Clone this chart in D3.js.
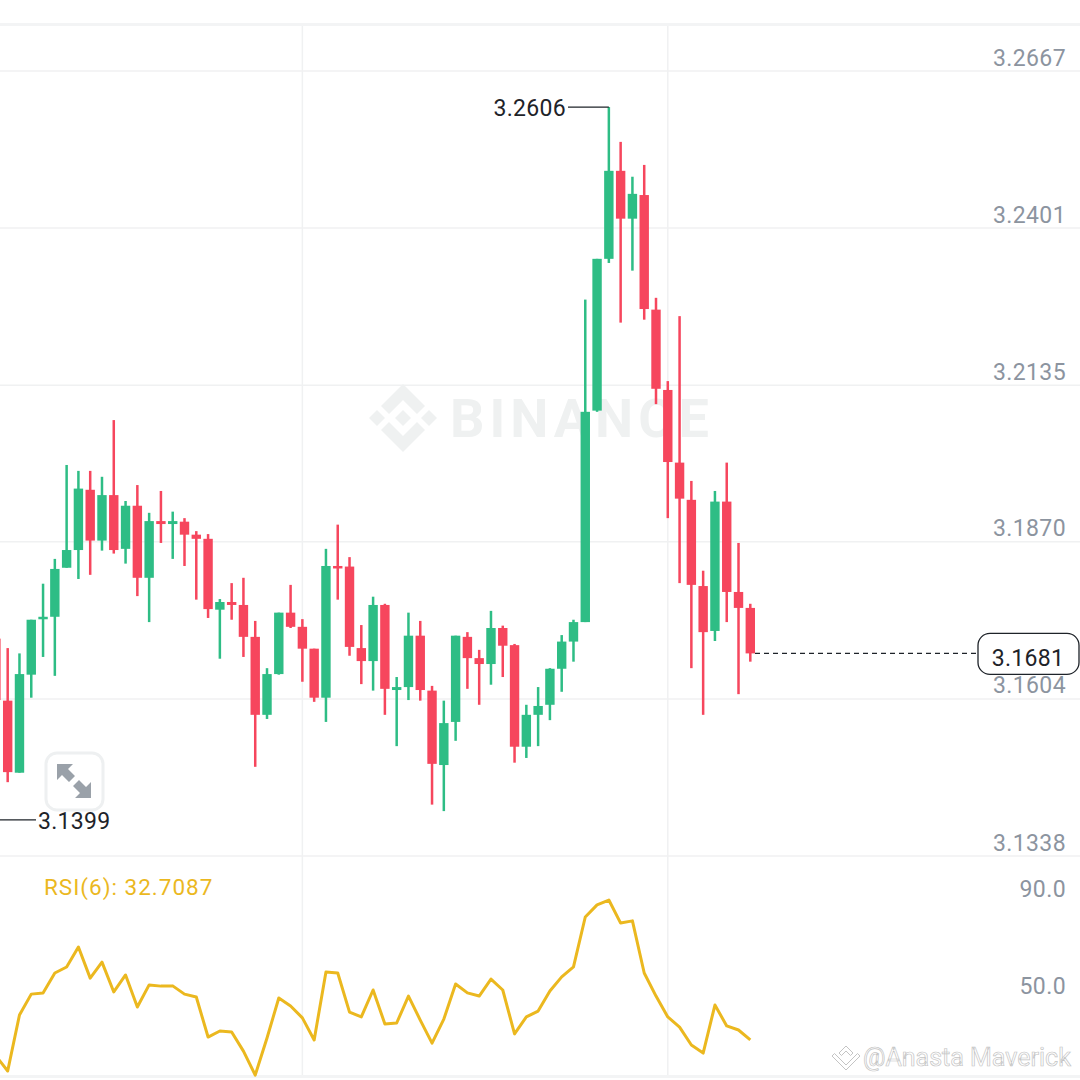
<!DOCTYPE html>
<html>
<head>
<meta charset="utf-8">
<script src="https://cdn.jsdelivr.net/npm/d3@7"></script>
<style>
	html, body { margin: 0; padding: 0; background: #fff; }
	svg { display: block; }
	text { font-family: Roboto, sans-serif; }
</style>
</head>
<body>
<div id="chart-container"></div>
<script>
// candles, oldest first. the first one is cut by the left edge of the screen
var candle_index = d3.range(-1, 64);
var opens = [3.1706,3.1601,3.1479,3.1645,3.1739,3.1743,3.1826,3.1856,3.1958,3.1872,3.1949,3.1858,3.1931,3.1809,3.1905,3.1900,3.1904,3.1882,3.1875,3.1755,3.1768,3.1763,3.1709,3.1577,3.1646,3.1750,3.1726,3.1689,3.1606,3.1829,3.1828,3.1690,3.1668,3.1763,3.1619,3.1624,3.1711,3.1618,3.1492,3.1565,3.1709,3.1673,3.1663,3.1724,3.1695,3.1523,3.1577,3.1594,3.1655,3.1701,3.1734,3.2092,3.2349,3.2498,3.2417,3.2457,3.2263,3.2127,3.2004,3.1941,3.1795,3.1719,3.1938,3.1785,3.1758];
var highs = [3.1706,3.1690,3.1681,3.1738,3.1799,3.1841,3.2000,3.1990,3.1990,3.1980,3.2076,3.1939,3.1966,3.1919,3.1956,3.1921,3.1910,3.1888,3.1883,3.1773,3.1800,3.1809,3.1736,3.1656,3.1750,3.1797,3.1739,3.1689,3.1858,3.1899,3.1844,3.1729,3.1777,3.1765,3.1641,3.1750,3.1736,3.1626,3.1601,3.1711,3.1717,3.1687,3.1753,3.1728,3.1697,3.1594,3.1624,3.1656,3.1712,3.1738,3.2280,3.2349,3.2606,3.2547,3.2488,3.2508,3.2283,3.2142,3.2252,3.1973,3.1821,3.1956,3.2004,3.1868,3.1765];
var lows = [3.1399,3.1463,3.1479,3.1606,3.1675,3.1643,3.1826,3.1807,3.1814,3.1855,3.1850,3.1833,3.1778,3.1734,3.1868,3.1841,3.1829,3.1772,3.1741,3.1672,3.1738,3.1675,3.1489,3.1570,3.1645,3.1724,3.1633,3.1599,3.1565,3.1772,3.1677,3.1629,3.1618,3.1577,3.1524,3.1602,3.1601,3.1425,3.1414,3.1533,3.1621,3.1594,3.1628,3.1641,3.1496,3.1504,3.1524,3.1568,3.1616,3.1667,3.1734,3.2090,3.2342,3.2241,3.2329,3.2246,3.2103,3.1910,3.1800,3.1656,3.1577,3.1702,3.1734,3.1612,3.1667];
var closes = [3.1602,3.1480,3.1646,3.1738,3.1743,3.1824,3.1856,3.1960,3.1872,3.1949,3.1856,3.1931,3.1809,3.1905,3.1900,3.1905,3.1882,3.1875,3.1756,3.1768,3.1763,3.1709,3.1577,3.1646,3.1750,3.1726,3.1689,3.1606,3.1829,3.1826,3.1692,3.1668,3.1763,3.1621,3.1624,3.1711,3.1619,3.1494,3.1563,3.1711,3.1673,3.1663,3.1724,3.1694,3.1523,3.1577,3.1592,3.1655,3.1701,3.1734,3.2090,3.2349,3.2498,3.2417,3.2459,3.2264,3.2129,3.2005,3.1943,3.1797,3.1717,3.1938,3.1785,3.1758,3.1681];
var rsi = [26.1,19.9,43.0,51.6,52.1,60.3,62.8,71.0,58.2,64.8,52.5,59.5,46.3,55.4,54.9,55.0,51.6,50.4,33.9,36.4,36.0,28.1,18.2,33.5,50.0,46.7,41.8,32.7,60.7,60.3,44.2,42.2,53.3,39.3,39.7,50.8,40.9,31.4,41.3,55.8,52.1,50.8,57.8,53.3,35.2,42.2,44.6,52.9,58.7,62.8,83.4,88.4,90.4,80.9,81.8,60.3,50.8,42.2,38.0,30.6,27.3,47.1,38.5,36.8,32.7087];

var price_ticks = [3.2667, 3.2401, 3.2135, 3.1870, 3.1604, 3.1338];
var rsi_ticks = [90, 50];
var time_grid = [25, 56];

var svg_width = 1080;
var svg_height = 1080;
var pane_top = 24.5;
var pane_bottom = 1076.5;
var grid_color = "#f0f1f2";
var up_color = "#2ebd85";
var down_color = "#f6465d";
var dark_color = "#1e2329";
var label_color = "#8c949f";
var body_width = 9.4;
var wick_width = 2.5;

var svg = d3.select("#chart-container")
	.append("svg")
	.attr("width", svg_width)
	.attr("height", svg_height);

var x = d3.scaleLinear().domain([-1, 63]).range([-4.1, 750.3]);
var y = d3.scaleLinear().domain([3.1338, 3.2667]).range([856, 71]);
var y_rsi = d3.scaleLinear().domain([50, 90]).range([998, 901]);

var candles = candle_index.map(function(d, i) {
	return {i: d, open: opens[i], high: highs[i], low: lows[i], close: closes[i]};
});

// grid
svg.selectAll(".time-grid")
	.data(time_grid)
	.enter().append("line")
	.attr("x1", d => x(d)).attr("x2", d => x(d))
	.attr("y1", pane_top).attr("y2", pane_bottom)
	.attr("stroke", grid_color).attr("stroke-width", 1.5);

svg.selectAll(".price-grid")
	.data(price_ticks)
	.enter().append("line")
	.attr("x1", 0).attr("x2", svg_width)
	.attr("y1", d => y(d)).attr("y2", d => y(d))
	.attr("stroke", grid_color).attr("stroke-width", 1.5);

svg.selectAll(".frame")
	.data([pane_top, pane_bottom])
	.enter().append("line")
	.attr("x1", 0).attr("x2", svg_width)
	.attr("y1", d => d).attr("y2", d => d)
	.attr("stroke", "#f3f4f5").attr("stroke-width", 3);

// watermark, sits under the candles
var logo = svg.append("g")
	.attr("transform", "translate(403,418)")
	.attr("fill", "#eff1f1");
logo.append("path").attr("d", "M0,-34L22,-12L14,-4L0,-18L-14,-4L-22,-12Z");
logo.append("path").attr("d", "M0,34L22,12L14,4L0,18L-14,4L-22,12Z");
logo.append("path").attr("d", "M0,-8L8,0L0,8L-8,0Z");
logo.append("path").attr("d", "M-26,-8L-18,0L-26,8L-34,0Z");
logo.append("path").attr("d", "M26,-8L34,0L26,8L18,0Z");
svg.append("text")
	.attr("x", 450).attr("y", 437)
	.attr("font-size", 54)
	.attr("font-weight", 700)
	.attr("letter-spacing", 5)
	.attr("fill", "#eff1f1")
	.text("BINANCE");

// candles
var g = svg.selectAll(".candle")
	.data(candles)
	.enter().append("g")
	.attr("class", "candle")
	.attr("fill", d => d.close >= d.open ? up_color : down_color);

g.append("rect")
	.attr("x", d => x(d.i) - wick_width / 2)
	.attr("y", d => y(d.high))
	.attr("width", wick_width)
	.attr("height", d => y(d.low) - y(d.high));

g.append("rect")
	.attr("x", d => x(d.i) - body_width / 2)
	.attr("y", d => y(Math.max(d.open, d.close)))
	.attr("width", body_width)
	.attr("height", d => Math.max(2.5, Math.abs(y(d.open) - y(d.close))));

// high and low markers
var top_candle = candles[d3.greatestIndex(highs)];
var low_candle = candles[d3.leastIndex(lows)];

svg.append("line")
	.attr("x1", 568).attr("x2", x(top_candle.i))
	.attr("y1", y(top_candle.high)).attr("y2", y(top_candle.high))
	.attr("stroke", dark_color).attr("stroke-width", 1.2);
svg.append("text")
	.attr("x", 566).attr("y", y(top_candle.high) + 9)
	.attr("text-anchor", "end")
	.attr("font-size", 23)
	.attr("letter-spacing", 0.3)
	.attr("fill", dark_color)
	.text(d3.format(".4f")(top_candle.high));

svg.append("line")
	.attr("x1", x(low_candle.i)).attr("x2", 36)
	.attr("y1", y(low_candle.low)).attr("y2", y(low_candle.low))
	.attr("stroke", dark_color).attr("stroke-width", 1.2);
svg.append("text")
	.attr("x", 38).attr("y", y(low_candle.low) + 9)
	.attr("font-size", 23)
	.attr("letter-spacing", 0.3)
	.attr("fill", dark_color)
	.text(d3.format(".4f")(low_candle.low));

// fullscreen button
var btn = svg.append("g").attr("transform", "translate(74,781)");
btn.append("rect")
	.attr("x", -28).attr("y", -28).attr("width", 57).attr("height", 57)
	.attr("rx", 11)
	.attr("fill", "#fff").attr("stroke", "#eef0f1").attr("stroke-width", 3);
btn.append("path").attr("fill", "#9aa1a9").attr("d", "M-17,-17L-1,-17L-6,-12L1,-5L-5,1L-12,-6L-17,-1Z");
btn.append("path").attr("fill", "#9aa1a9").attr("d", "M17,17L1,17L6,12L-1,5L5,-1L12,6L17,1Z");

// last price
var last_close = closes[closes.length - 1];
svg.append("line")
	.attr("x1", x(63) + body_width / 2).attr("x2", 978)
	.attr("y1", y(last_close)).attr("y2", y(last_close))
	.attr("stroke", dark_color).attr("stroke-width", 1.2)
	.attr("stroke-dasharray", "5,4");

// price axis
var axis_price = d3.axisLeft(y)
	.tickValues(price_ticks)
	.tickSize(0)
	.tickFormat(d3.format(".4f"));
var g_price = svg.append("g")
	.attr("transform", "translate(1069,0)")
	.call(axis_price);
g_price.select(".domain").remove();
g_price.selectAll("text")
	.attr("font-size", 23)
	.attr("font-family", "Roboto, sans-serif")
	.attr("letter-spacing", 0.4)
	.attr("fill", label_color)
	.attr("dy", -6);

svg.append("rect")
	.attr("x", 978).attr("y", y(last_close) - 20)
	.attr("width", 101).attr("height", 41)
	.attr("rx", 12)
	.attr("fill", "#fff")
	.attr("stroke", dark_color).attr("stroke-width", 1.3);
svg.append("text")
	.attr("x", 1028).attr("y", y(last_close) + 13)
	.attr("text-anchor", "middle")
	.attr("font-size", 23)
	.attr("letter-spacing", 0.3)
	.attr("fill", dark_color)
	.text(d3.format(".4f")(last_close));

// rsi pane
var line = d3.line()
	.x((d, i) => x(candle_index[i]))
	.y(d => y_rsi(d));

svg.append("path")
	.datum(rsi)
	.attr("d", line)
	.attr("fill", "none")
	.attr("stroke", "#ebb81f")
	.attr("stroke-width", 3)
	.attr("stroke-linejoin", "round");

svg.append("text")
	.attr("x", 44).attr("y", 895)
	.attr("font-size", 22.5)
	.attr("letter-spacing", 1)
	.attr("fill", "#ebb81f")
	.text("RSI(6): " + d3.format(".4f")(rsi[rsi.length - 1]));

var axis_rsi = d3.axisLeft(y_rsi)
	.tickValues(rsi_ticks)
	.tickSize(0)
	.tickFormat(d3.format(".1f"));
var g_rsi = svg.append("g")
	.attr("transform", "translate(1069,0)")
	.call(axis_rsi);
g_rsi.select(".domain").remove();
g_rsi.selectAll("text")
	.attr("font-size", 23)
	.attr("font-family", "Roboto, sans-serif")
	.attr("letter-spacing", 0.4)
	.attr("fill", label_color)
	.attr("dy", -5);

// uploader mark
var mark = svg.append("g")
	.attr("transform", "translate(846,1058) scale(0.5)")
	.attr("fill", "#fff")
	.attr("stroke", "#c4c4c4")
	.attr("stroke-width", 2);
mark.append("path").attr("d", "M0,-24L14,-10L9,-5L0,-14L-9,-5L-14,-10Z");
mark.append("path").attr("d", "M0,24L28,-4L23,-9L0,14L-23,-9L-28,-4Z");
svg.append("text")
	.attr("x", 863).attr("y", 1066)
	.attr("font-size", 25)
	.attr("fill", "#fff")
	.attr("stroke", "#c4c4c4")
	.attr("stroke-width", 0.7)
	.text("@Anasta Maverick");
</script>
</body>
</html>
